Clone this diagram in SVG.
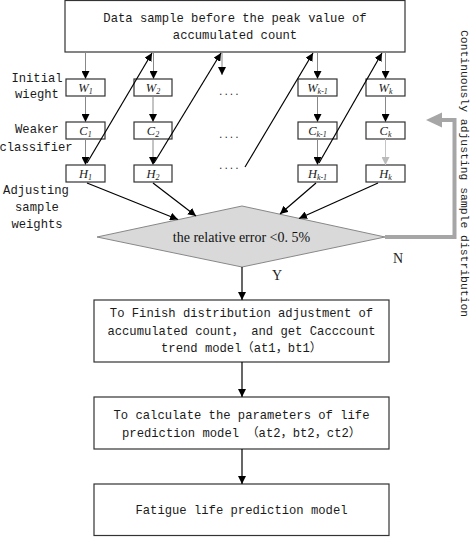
<svg xmlns="http://www.w3.org/2000/svg" width="474" height="537" viewBox="0 0 474 537">
<defs>
<marker id="ah" markerUnits="userSpaceOnUse" markerWidth="10" markerHeight="8" refX="8" refY="4" orient="auto"><path d="M0,0 L8,4 L0,8 Z" fill="#000"/></marker>
<marker id="ahl" markerUnits="userSpaceOnUse" markerWidth="10" markerHeight="8" refX="8" refY="4" orient="auto"><path d="M0,0 L8,4 L0,8 Z" fill="#bbb"/></marker>
<style>
.box{fill:#fff;stroke:#333;stroke-width:1.2}
.sb{fill:#fff;stroke:#333;stroke-width:1.2}
.t{font-family:"Liberation Mono","Noto Sans CJK SC",monospace;font-size:12.2px;fill:#1a1a1a;text-anchor:middle}
.lbl{font-family:"Liberation Mono",monospace;font-size:12.2px;fill:#1a1a1a;text-anchor:middle}
.sub{font-family:"Liberation Serif",serif;font-style:italic;font-size:12.5px;fill:#222;text-anchor:middle}
.s{font-size:8px}
.g{stroke:#888;stroke-width:1;fill:none}
.k{stroke:#000;stroke-width:1.2;fill:none}
.dots{font-family:"Liberation Mono",monospace;font-size:9px;fill:#222}
.yn{font-family:"Liberation Serif",serif;font-size:14px;fill:#222;text-anchor:middle}
</style>
</defs>
<rect width="474" height="537" fill="#fff"/>

<g id="top-box">
<rect class="box" x="65" y="0.5" width="340" height="51.5"/>
<text class="t" x="235" y="22">Data sample before the peak value of</text>
<text class="t" x="235" y="39">accumulated count</text>
</g>

<g id="labels">
<text class="lbl" x="37" y="82">Initial</text>
<text class="lbl" x="37" y="98">wieght</text>
<text class="lbl" x="37" y="133">Weaker</text>
<text class="lbl" x="36" y="151">classifier</text>
<text class="lbl" x="36" y="194">Adjusting</text>
<text class="lbl" x="37" y="211">sample</text>
<text class="lbl" x="37" y="228">weights</text>
</g>

<g id="W1"><rect class="sb" x="66" y="79" width="39" height="17"/><text class="sub" x="85.5" y="92">W<tspan class="s" dy="2">1</tspan></text></g>
<g id="W2"><rect class="sb" x="134" y="79" width="38" height="17"/><text class="sub" x="153" y="92">W<tspan class="s" dy="2">2</tspan></text></g>
<g id="Wk-1"><rect class="sb" x="298" y="79" width="39" height="17"/><text class="sub" x="317.5" y="92">W<tspan class="s" dy="2">k-1</tspan></text></g>
<g id="Wk"><rect class="sb" x="366" y="79" width="39" height="17"/><text class="sub" x="385.5" y="92">W<tspan class="s" dy="2">k</tspan></text></g>

<g id="C1"><rect class="sb" x="66" y="122" width="39" height="17"/><text class="sub" x="85.5" y="135">C<tspan class="s" dy="2">1</tspan></text></g>
<g id="C2"><rect class="sb" x="134" y="122" width="38" height="17"/><text class="sub" x="153" y="135">C<tspan class="s" dy="2">2</tspan></text></g>
<g id="Ck-1"><rect class="sb" x="298" y="122" width="39" height="17"/><text class="sub" x="317.5" y="135">C<tspan class="s" dy="2">k-1</tspan></text></g>
<g id="Ck"><rect class="sb" x="366" y="122" width="39" height="17"/><text class="sub" x="385.5" y="135">C<tspan class="s" dy="2">k</tspan></text></g>

<g id="H1"><rect class="sb" x="66" y="165" width="39" height="17"/><text class="sub" x="85.5" y="178">H<tspan class="s" dy="2">1</tspan></text></g>
<g id="H2"><rect class="sb" x="134" y="165" width="38" height="17"/><text class="sub" x="153" y="178">H<tspan class="s" dy="2">2</tspan></text></g>
<g id="Hk-1"><rect class="sb" x="298" y="165" width="39" height="17"/><text class="sub" x="317.5" y="178">H<tspan class="s" dy="2">k-1</tspan></text></g>
<g id="Hk"><rect class="sb" x="366" y="165" width="39" height="17"/><text class="sub" x="385.5" y="178">H<tspan class="s" dy="2">k</tspan></text></g>

<g id="dots">
<text class="dots" x="218" y="95">....</text>
<text class="dots" x="218" y="138">....</text>
<text class="dots" x="218" y="169">....</text>
</g>

<g id="decision">
<polygon points="97,237 242,206 385,237 242,267" fill="#d9d9d9" stroke="#888" stroke-width="1"/>
<text x="241.5" y="242" font-family="Liberation Serif, serif" font-size="14" fill="#111" text-anchor="middle">the relative error &lt;0. 5%</text>
</g>

<g id="box2">
<rect class="box" x="94" y="300" width="295" height="62"/>
<text class="t" x="241.5" y="317">To Finish distribution adjustment of</text>
<text class="t" x="241.5" y="335">accumulated count， and get Cacccount</text>
<text class="t" x="241.5" y="352">trend model（at1，bt1）</text>
</g>

<g id="box3">
<rect class="box" x="94" y="397" width="295" height="52"/>
<text class="t" x="241.5" y="419">To calculate the parameters of life</text>
<text class="t" x="241.5" y="437">prediction model （at2，bt2，ct2）</text>
</g>

<g id="box4">
<rect class="box" x="94" y="484" width="295" height="51.5"/>
<text class="t" x="241.5" y="514">Fatigue life prediction model</text>
</g>

<g id="connectors">
<line class="g" x1="85.5" y1="52" x2="85.5" y2="79" marker-end="url(#ah)"/>
<line class="g" x1="153.5" y1="52" x2="153.5" y2="79" marker-end="url(#ah)"/>
<line class="g" x1="222" y1="52" x2="222" y2="75" marker-end="url(#ah)"/>
<line class="g" x1="317.5" y1="52" x2="317.5" y2="79" marker-end="url(#ah)"/>
<line class="g" x1="385.5" y1="52" x2="385.5" y2="79" marker-end="url(#ah)"/>

<line class="g" x1="85.5" y1="96" x2="85.5" y2="122" marker-end="url(#ah)"/>
<line class="g" x1="153" y1="96" x2="153" y2="122" marker-end="url(#ah)"/>
<line class="g" x1="317.5" y1="96" x2="317.5" y2="122" marker-end="url(#ah)"/>
<line class="g" x1="385.5" y1="96" x2="385.5" y2="122" marker-end="url(#ah)"/>

<line class="g" x1="85.5" y1="139" x2="85.5" y2="165" marker-end="url(#ah)"/>
<line class="g" x1="153" y1="139" x2="153" y2="165" marker-end="url(#ah)"/>
<line class="g" x1="317.5" y1="139" x2="317.5" y2="165" marker-end="url(#ah)"/>
<line x1="385.5" y1="139" x2="385.5" y2="165" stroke="#c4c4c4" stroke-width="1" marker-end="url(#ahl)"/>

<line class="k" x1="87" y1="163" x2="152" y2="53" marker-end="url(#ah)"/>
<line class="k" x1="154" y1="163" x2="221" y2="53" marker-end="url(#ah)"/>
<line class="k" x1="245" y1="167" x2="313" y2="53" marker-end="url(#ah)"/>
<line class="k" x1="319" y1="163" x2="382" y2="53" marker-end="url(#ah)"/>

<line class="k" x1="87" y1="183" x2="178" y2="219.5" marker-end="url(#ah)"/>
<line class="k" x1="153" y1="183" x2="196" y2="216" marker-end="url(#ah)"/>
<line class="k" x1="316" y1="183" x2="280" y2="214" marker-end="url(#ah)"/>
<line class="k" x1="378" y1="183" x2="299" y2="218.5" marker-end="url(#ah)"/>

<line class="k" x1="242" y1="267" x2="242" y2="300" marker-end="url(#ah)"/>
<line class="k" x1="242" y1="362" x2="242" y2="397" marker-end="url(#ah)"/>
<line class="k" x1="242" y1="449" x2="242" y2="484" marker-end="url(#ah)"/>

<polyline points="385,237 454.5,237 454.5,120 438,120" fill="none" stroke="#a6a6a6" stroke-width="4"/>
<polygon points="426,120 442,112.5 442,127.5" fill="#a6a6a6"/>
<text class="yn" x="277" y="280">Y</text>
<text class="yn" x="398" y="263">N</text>
</g>

<g id="side-label">
<text x="461" y="30" transform="rotate(90 461 30)" font-family="Liberation Mono, monospace" font-size="11.4" fill="#222">Continuously adjusting sample distribution</text>
</g>
</svg>
